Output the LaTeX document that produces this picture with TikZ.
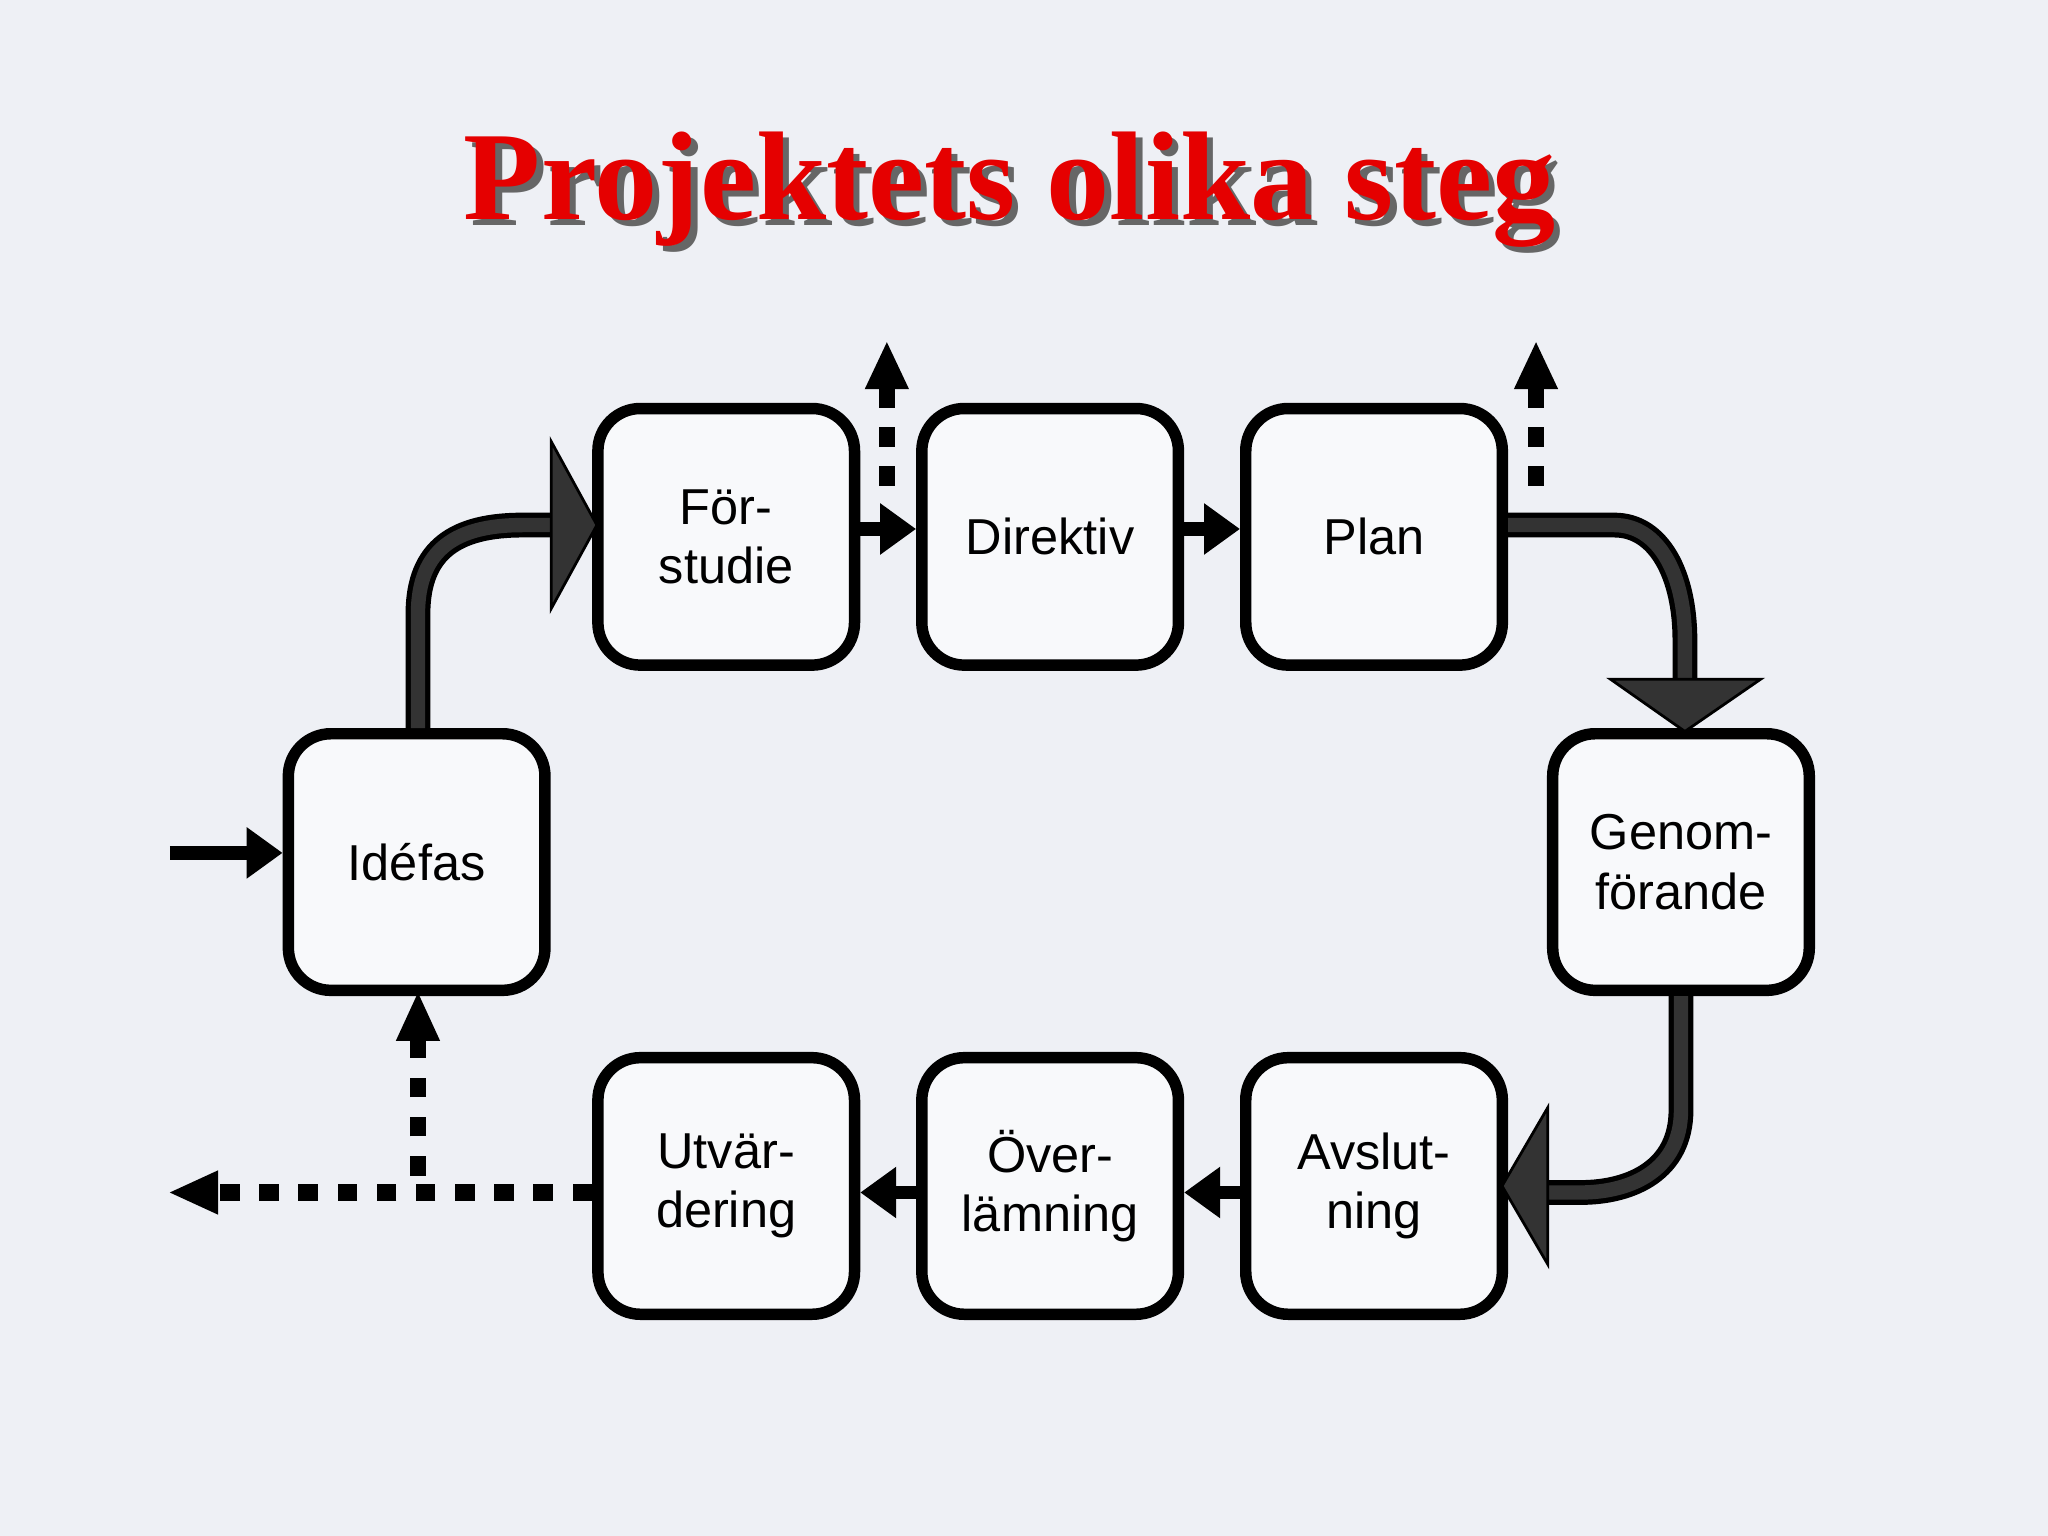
\documentclass[tikz,border=0pt]{standalone}
\usepackage{fontspec}
\setmainfont{Liberation Sans}
\newfontfamily\titlefont{Liberation Serif}
\begin{document}
\begin{tikzpicture}[x=0.02cm,y=-0.02cm,
  box/.style={draw=black,line width=5pt,rounded corners=0.65cm,fill=white!60!bgc,minimum width=3.93cm,minimum height=3.93cm,align=center,font=\fontsize{22}{26}\selectfont,inner sep=0pt},
  small/.style={line width=6pt,-{Triangle[length=0.55cm,width=0.75cm]}},
  dots/.style={line width=7pt,dash pattern=on 0.3cm off 0.3cm},
  dhead/.style={fill=black},
  shaft/.style={line width=0.38cm,black},
  shaftin/.style={line width=0.22cm,color=darkg},
  bighead/.style={fill=darkg,draw=black,line width=1.2pt}]
\usetikzlibrary{arrows.meta}
\definecolor{bgc}{HTML}{EEF0F5}
\definecolor{darkg}{HTML}{333333}
\fill[bgc] (0,0) rectangle (1568,1176);
\node[font=\titlefont\bfseries\fontsize{55}{60}\selectfont,text=black!60] at (778,150) {Projektets olika steg};
\node[font=\titlefont\bfseries\fontsize{55}{60}\selectfont,text=red!90!black] (title) at (773,145) {Projektets olika steg};
\node[box] (fs) at (556,411) {För-\\studie};
\node[box] (di) at (804,411) {Direktiv};
\node[box] (pl) at (1052,411) {Plan};
\node[box] (id) at (319,660) {Idéfas};
\node[box] (ge) at (1287,660) {Genom-\\förande};
\node[box] (ut) at (556,908) {Utvär-\\dering};
\node[box] (ov) at (804,908) {Över-\\lämning};
\node[box] (av) at (1052,908) {Avslut-\\ning};
\draw[small] (fs.east|-0,405) -- (di.west|-0,405);
\draw[small] (di.east|-0,405) -- (pl.west|-0,405);
\draw[small] (av.west|-0,913) -- (ov.east|-0,913);
\draw[small] (ov.west|-0,913) -- (ut.east|-0,913);
\coordinate (in) at (130,653);
\draw[small] (in) -- (id.west|-in);
\coordinate (u1) at (679,296);
\coordinate (u2) at (1176,296);
\draw[dots] (679,372) -- (u1);
\fill[dhead] (662,298) -- (679,262) -- (696,298) -- cycle;
\draw[dots] (1176,372) -- (u2);
\fill[dhead] (1159,298) -- (1176,262) -- (1193,298) -- cycle;
\coordinate (l1) at (165,913);
\draw[dots] (ut.west|-0,913) -- (l1);
\fill[dhead] (167,896) -- (130,913) -- (167,930) -- cycle;
\coordinate (b1) at (320,795);
\draw[dots] (320,900) -- (b1);
\fill[dhead] (303,797) -- (320,760) -- (337,797) -- cycle;
\foreach \s in {shaft,shaftin}{
  \draw[\s] (id.north-|320,0) -- (320,470) .. controls (320,420) and (350,402) .. (400,402) -- (424,402);
  \draw[\s] (pl.east|-0,402) -- (1236,402) .. controls (1270,402) and (1290,440) .. (1290,490) -- (1290,522);
  \draw[\s] (ge.south-|1287,0) -- (1287,850) .. controls (1287,895) and (1250,913) .. (1210,913) -- (1184,913);
}
\draw[bighead] (422,338) -- (457,402) -- (422,466) -- cycle;
\draw[bighead] (1233,520) -- (1348,520) -- (1290,560) -- cycle;
\draw[bighead] (1185,848) -- (1150,908) -- (1185,968) -- cycle;
\end{tikzpicture}
\end{document}
